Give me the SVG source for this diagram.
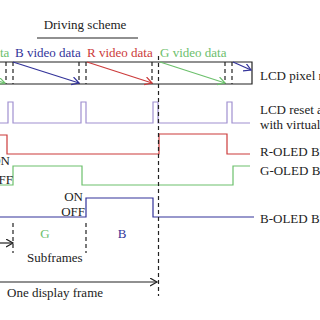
<svg xmlns="http://www.w3.org/2000/svg" width="320" height="320" viewBox="0 0 320 320">
<style>
text{font-family:'Liberation Serif','Times New Roman','DejaVu Serif',serif;font-size:13px;fill:#222}
.sm{font-size:12px}
.ln{fill:none;stroke-width:1.2}
.k{stroke:#222}
.b{stroke:#33339a}
.r{stroke:#cc3b3b}
.g{stroke:#6cc06c}
.p{stroke:#a090d0}
.d{stroke:#222;stroke-width:1.2;stroke-dasharray:4,3;fill:none}
.tb{fill:#33339a}.tr{fill:#cc3b3b}.tg{fill:#6cc06c}
</style>
<defs>
<marker id="ab" markerWidth="9" markerHeight="9" refX="7" refY="4" orient="auto" markerUnits="userSpaceOnUse"><path d="M0,0 L7,4 L0,8" fill="none" stroke="#33339a" stroke-width="1.2"/></marker>
<marker id="ar" markerWidth="9" markerHeight="9" refX="7" refY="4" orient="auto" markerUnits="userSpaceOnUse"><path d="M0,0 L7,4 L0,8" fill="none" stroke="#cc3b3b" stroke-width="1.2"/></marker>
<marker id="ag" markerWidth="9" markerHeight="9" refX="7" refY="4" orient="auto" markerUnits="userSpaceOnUse"><path d="M0,0 L7,4 L0,8" fill="none" stroke="#6cc06c" stroke-width="1.2"/></marker>
<marker id="ak" markerWidth="9" markerHeight="9" refX="7" refY="4" orient="auto" markerUnits="userSpaceOnUse"><path d="M0,0 L7,4 L0,8" fill="none" stroke="#222" stroke-width="1.2"/></marker>
</defs>
<rect width="320" height="320" fill="#fff"/>
<g font-family="Liberation Serif, Times New Roman, serif">
<g id="title">
<text x="85" y="29" text-anchor="middle">Driving scheme</text>
<line x1="37" y1="38" x2="138" y2="38" class="ln k"/>
</g>

<g id="lcd-pixel">
<text x="0" y="57" class="tg">ta</text>
<text x="15" y="57" class="tb">B video data</text>
<text x="87" y="57" class="tr">R video data</text>
<text x="160" y="57" class="tg">G video data</text>
<path d="M0,62 H252 V84 H0" class="ln k"/>
<text x="260" y="80">LCD pixel r</text>
</g>

<g id="lcd-reset">
<path d="M0,123 H8 V102 H13 V123 H81 V102 H86 V123 H153 V102 H158 V123 H227 V102 H232 V123 H250" class="ln p"/>
<text x="260" y="114">LCD reset a</text>
<text x="260" y="129">with virtual</text>
</g>

<g id="r-oled">
<path d="M0,135 H7 V154 H159 V134 H227 V154 H250" class="ln r"/>
<text x="260" y="156">R-OLED BL</text>
</g>

<g id="g-oled">
<path d="M0,185 H13 V166 H82 V185 H233 V166 H250" class="ln g"/>
<text x="10" y="165" text-anchor="end">ON</text>
<text x="13" y="184" text-anchor="end">OFF</text>
<text x="260" y="175">G-OLED BL</text>
</g>

<g id="b-oled">
<path d="M0,217 H86 V198 H153 V217 H254" class="ln b"/>
<text x="83" y="201" text-anchor="end">ON</text>
<text x="85" y="215.5" text-anchor="end">OFF</text>
<text x="260" y="223">B-OLED BL</text>
</g>

<g id="subframes">
<text x="45" y="238" text-anchor="middle" class="tg">G</text>
<text x="122" y="238" text-anchor="middle" class="tb">B</text>
<text x="27" y="262">Subframes</text>
</g>

<g id="frame">
<text x="7" y="297">One display frame</text>
</g>
</g>
<g id="connectors">
<line x1="6" y1="62" x2="6" y2="84" class="d"/>
<line x1="13" y1="62" x2="13" y2="84" class="d"/>
<line x1="79" y1="62" x2="79" y2="84" class="d"/>
<line x1="86" y1="62" x2="86" y2="84" class="d"/>
<line x1="152" y1="62" x2="152" y2="84" class="d"/>
<line x1="225" y1="62" x2="225" y2="84" class="d"/>
<line x1="232" y1="62" x2="232" y2="84" class="d"/>
<line x1="158.5" y1="56" x2="158.5" y2="296" class="d"/>
<line x1="13" y1="223" x2="13" y2="253" class="d"/>
<line x1="86" y1="223" x2="86" y2="253" class="d"/>
<line x1="-20" y1="76" x2="5" y2="83" class="ln g" marker-end="url(#ag)"/>
<line x1="13" y1="62" x2="79" y2="83" class="ln b" marker-end="url(#ab)"/>
<line x1="87" y1="62" x2="152" y2="83" class="ln r" marker-end="url(#ar)"/>
<line x1="160" y1="62" x2="225" y2="83" class="ln g" marker-end="url(#ag)"/>
<line x1="233" y1="62" x2="251" y2="70" class="ln b" marker-end="url(#ab)"/>
<line x1="0" y1="243" x2="13" y2="243" class="ln k" marker-end="url(#ak)"/>
<line x1="0" y1="282" x2="157" y2="282" class="ln k" marker-end="url(#ak)"/>
</g>
</svg>
